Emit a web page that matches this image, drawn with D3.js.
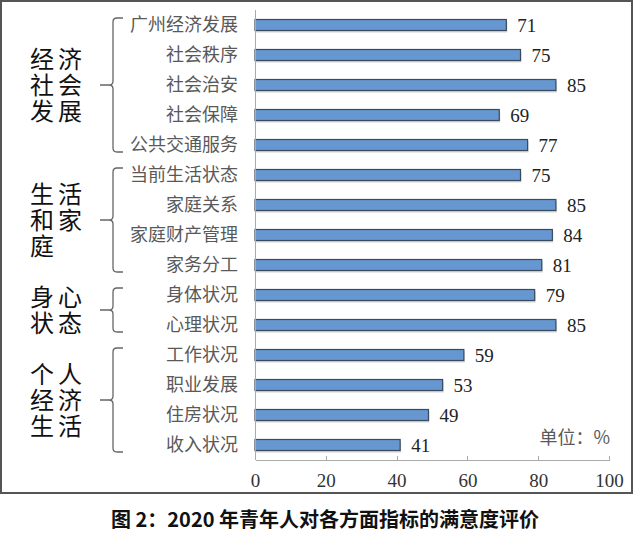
<!DOCTYPE html>
<meta charset="utf-8">
<style>
body { margin: 0; background: #fff; }
.cat { font-family: "Noto Sans CJK SC", sans-serif; font-size: 18px; fill: #595959; }
.grp { font-family: "Noto Sans CJK SC", sans-serif; font-size: 24px; fill: #111; }
.val { font-family: "Liberation Serif", "Times New Roman", serif; font-size: 19px; fill: #222; }
.axis text { font-family: "Liberation Serif", "Times New Roman", serif; font-size: 19px; fill: #333; }
.axis path, .axis line { stroke: #aaa; shape-rendering: crispEdges; }
</style>
<body>
<div id="chart"></div>
<script src="https://cdn.jsdelivr.net/npm/d3@7/dist/d3.min.js"></script>
<script>
// data
var categories = ["广州经济发展", "社会秩序", "社会治安", "社会保障", "公共交通服务",
                  "当前生活状态", "家庭关系", "家庭财产管理", "家务分工",
                  "身体状况", "心理状况",
                  "工作状况", "职业发展", "住房状况", "收入状况"];
var values = [71, 75, 85, 69, 77, 75, 85, 84, 81, 79, 85, 59, 53, 49, 41];
var groupNames = [["经济", "社会", "发展"], ["生活", "和家", "庭"], ["身心", "状态"], ["个人", "经济", "生活"]];
var groupSizes = [5, 4, 2, 4];
var xTicks = [0, 20, 40, 60, 80, 100];
var title = "图 2：2020 年青年人对各方面指标的满意度评价";
var unitText = "单位：%";

var W = 635, H = 540;
var svg = d3.select("#chart").append("svg").attr("width", W).attr("height", H);

// outer frame
svg.append("rect").attr("x", 1).attr("y", 1).attr("width", 631).attr("height", 492)
  .attr("fill", "none").attr("stroke", "#555").attr("stroke-width", 2);

var x = d3.scaleLinear().domain([0, 100]).range([255, 609]);
var y = d3.scaleBand().domain(categories).range([10, 460]);
var bh = 11;

// bar shadows
svg.append("g").selectAll("rect").data(categories).enter().append("rect")
  .attr("x", x(0) + 1)
  .attr("y", function(d) { return y(d) + (y.bandwidth() - bh) / 2 + 2; })
  .attr("width", function(d, i) { return x(values[i]) - x(0); })
  .attr("height", bh)
  .attr("fill", "#d4d4d4");

// bars
svg.append("g").selectAll("rect").data(categories).enter().append("rect")
  .attr("x", x(0))
  .attr("y", function(d) { return y(d) + (y.bandwidth() - bh) / 2; })
  .attr("width", function(d, i) { return x(values[i]) - x(0); })
  .attr("height", bh)
  .attr("fill", "#6797d0")
  .attr("stroke", "#3b4b5e")
  .attr("stroke-width", 1.2);

// value labels
svg.append("g").selectAll("text").data(categories).enter().append("text")
  .attr("class", "val")
  .attr("x", function(d, i) { return x(values[i]) + 11; })
  .attr("y", function(d) { return y(d) + y.bandwidth() / 2 + 7; })
  .text(function(d, i) { return values[i]; });

// category labels
svg.append("g").selectAll("text").data(categories).enter().append("text")
  .attr("class", "cat")
  .attr("x", 238)
  .attr("y", function(d) { return y(d) + y.bandwidth() / 2 + 6; })
  .attr("text-anchor", "end")
  .text(function(d) { return d; });

// y axis line
svg.append("line").attr("x1", x(0)).attr("x2", x(0)).attr("y1", 10).attr("y2", 460)
  .attr("stroke", "#aaa").style("shape-rendering", "crispEdges");

// x axis
var xAxis = svg.append("g").attr("class", "axis").attr("transform", "translate(0,460)")
  .call(d3.axisBottom(x).tickValues(xTicks).tickSizeInner(-4).tickSizeOuter(0).tickPadding(14));
xAxis.select(".domain").attr("stroke", "#aaa");

// unit
svg.append("text").attr("class", "cat").attr("x", 610).attr("y", 444)
  .attr("text-anchor", "end").text(unitText);

// groups: braces + big labels
var start = 0;
groupSizes.forEach(function(n, gi) {
  var top = y(categories[start]) + y.bandwidth() / 2 - 7;
  var bot = y(categories[start + n - 1]) + y.bandwidth() / 2 + 7;
  var mid = (top + bot) / 2;
  var bx = 113, r = 4;
  var p = "M" + (bx + 10) + "," + top +
    " L" + (bx + r) + "," + top +
    " Q" + bx + "," + top + " " + bx + "," + (top + r) +
    " L" + bx + "," + (mid - 4) +
    " Q" + bx + "," + mid + " " + (bx - 4) + "," + mid +
    " L" + (bx - 13) + "," + mid +
    " M" + (bx - 4) + "," + mid +
    " Q" + bx + "," + mid + " " + bx + "," + (mid + 4) +
    " L" + bx + "," + (bot - r) +
    " Q" + bx + "," + bot + " " + (bx + r) + "," + bot +
    " L" + (bx + 10) + "," + bot;
  svg.append("path").attr("d", p).attr("fill", "none").attr("stroke", "#666").attr("stroke-width", 1.3);

  // one text per group, one tspan per line
  var lines = groupNames[gi];
  var lh = 26;
  var y0 = mid - (lines.length - 1) * lh / 2 + 9;
  var t = svg.append("text").attr("class", "grp");
  lines.forEach(function(s, li) {
    t.append("tspan").attr("x", 30).attr("y", y0 + li * lh)
      .attr("letter-spacing", 4).text(s);
  });
  start += n;
});

// title
svg.append("text").attr("x", 325).attr("y", 527).attr("text-anchor", "middle")
  .style("font-family", "'Noto Sans CJK SC', sans-serif").style("font-size", "20px")
  .style("font-weight", "bold").attr("fill", "#111")
  .text(title);
</script>
</body>
